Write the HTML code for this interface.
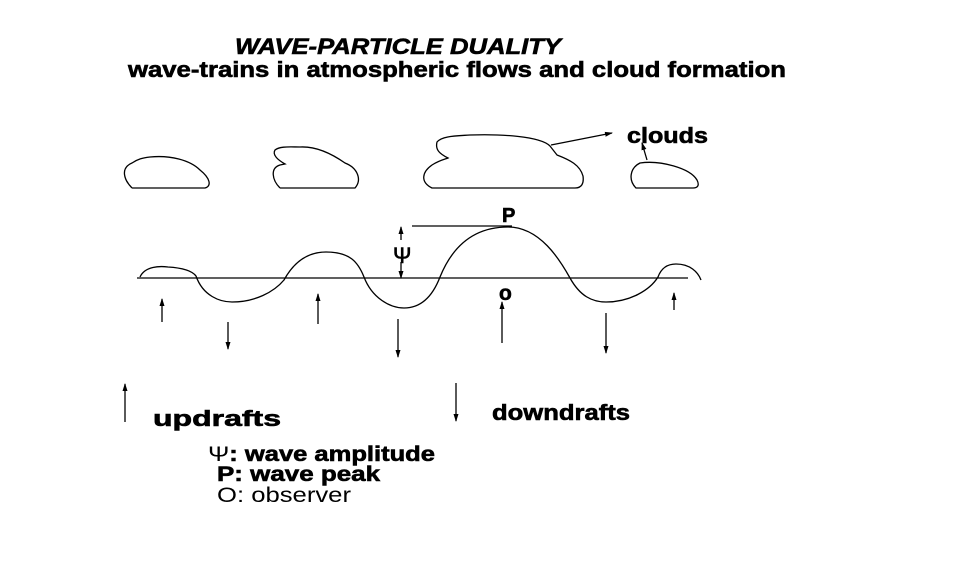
<!DOCTYPE html>
<html><head><meta charset="utf-8"><style>
html,body{margin:0;padding:0;background:#fff;}
svg{display:block;}
text{font-family:"Liberation Sans",sans-serif;fill:#000;}
.b{stroke:#000;stroke-width:0.6;}
</style></head><body>
<svg width="974" height="586" viewBox="0 0 974 586" xmlns="http://www.w3.org/2000/svg">
<defs>
<marker id="ah" markerWidth="8" markerHeight="8" refX="7" refY="4" orient="auto" markerUnits="userSpaceOnUse">
<path d="M0,1.5 L8,4 L0,6.5 Z" fill="#000"/>
</marker>
</defs>
<text class="b" x="235" y="54" font-size="22" font-weight="bold" font-style="italic" textLength="326" lengthAdjust="spacingAndGlyphs">WAVE-PARTICLE DUALITY</text>
<text class="b" x="128" y="77" font-size="22" font-weight="bold" textLength="658" lengthAdjust="spacingAndGlyphs">wave-trains in atmospheric flows and cloud formation</text>

<g fill="none" stroke="#000" stroke-width="1.3">
<path d="M132,188 C124,180 120,168 132,163 C138,159 142,158 150,157 C170,155 190,160 200,170 C210,178 212,186 205,188 L132,188"/>
<path d="M280,188 C272,180 270,168 280,165 L285,164 C278,160 272,155 275,150 C280,146 290,147 300,147 C318,146 335,156 345,163 C358,168 362,180 355,188 L280,188"/>
<path d="M432,188 C420,182 422,172 432,165 C440,160 446,159 448,158 C440,154 435,150 437,142 C442,136 455,136 470,135 C500,134 540,136 550,146 L557,155 C570,160 580,165 583,176 C584,183 582,188 575,188 Z"/>
<path d="M636,188 C628,180 630,168 640,163 C660,160 690,168 697,180 C700,186 697,188 693,188 Z"/>
<line x1="137" y1="278" x2="688" y2="278"/>
<path d="M140,277 C145,266 160,266 168,267 C185,268 193,272 196,276 C203,296 220,302 232,302 C255,302 274,292 284,280 C295,260 310,252 326,252 C350,252 358,262 364,277 C372,298 390,308 404,308 C425,308 435,290 440,277 C455,240 480,227 508,227 C540,227 560,260 570,278 C580,296 592,302 606,302 C630,302 650,290 658,277 C662,266 670,264 676,264 C690,264 698,272 701,280"/>
<line x1="412" y1="226" x2="512" y2="226"/>
</g>

<g stroke="#000" stroke-width="1.3" marker-end="url(#ah)">
<line x1="551" y1="145" x2="612" y2="133"/>
<line x1="647" y1="160" x2="642" y2="143"/>
<line x1="401" y1="240" x2="401" y2="227"/>
<line x1="401" y1="262" x2="401" y2="278"/>
<line x1="162" y1="322" x2="162" y2="299"/>
<line x1="318" y1="324" x2="318" y2="294"/>
<line x1="502" y1="343" x2="502" y2="302"/>
<line x1="674" y1="310" x2="674" y2="293"/>
<line x1="228" y1="322" x2="228" y2="349"/>
<line x1="398" y1="319" x2="398" y2="357"/>
<line x1="606" y1="313" x2="606" y2="353"/>
<line x1="125" y1="422" x2="125" y2="384"/>
<line x1="456" y1="383" x2="456" y2="421"/>
</g>

<text class="b" x="627" y="143" font-size="22" font-weight="bold" textLength="81" lengthAdjust="spacingAndGlyphs">clouds</text>
<text class="b" x="502" y="222" font-size="20" font-weight="bold">P</text>
<text class="b" x="393" y="263" font-size="22" font-family="'DejaVu Serif',serif">Ψ</text>
<text class="b" x="499" y="300" font-size="21" font-weight="bold">o</text>
<text class="b" x="153" y="426" font-size="22" font-weight="bold" textLength="128" lengthAdjust="spacingAndGlyphs">updrafts</text>
<text class="b" x="492" y="420" font-size="22" font-weight="bold" textLength="138" lengthAdjust="spacingAndGlyphs">downdrafts</text>
<text class="b" x="208" y="461" font-size="21" font-weight="bold" textLength="227" lengthAdjust="spacingAndGlyphs"><tspan font-weight="normal" stroke-width="0">Ψ</tspan>: wave amplitude</text>
<text class="b" x="217" y="481" font-size="21" font-weight="bold" textLength="163" lengthAdjust="spacingAndGlyphs">P: wave peak</text>
<text x="217" y="502" font-size="21" textLength="134" lengthAdjust="spacingAndGlyphs">O: observer</text>
</svg>
</body></html>
